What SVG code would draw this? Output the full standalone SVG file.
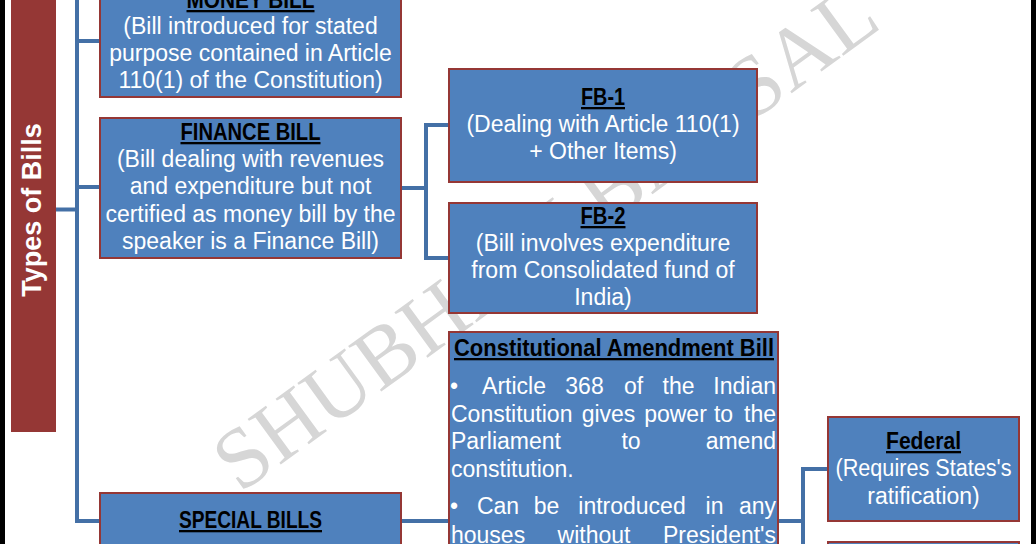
<svg xmlns="http://www.w3.org/2000/svg" width="1036" height="544" viewBox="0 0 1036 544">
<style>
.box{fill:#4F81BD;stroke:#953735;stroke-width:2}
.t{font-family:"Liberation Sans",Arial,sans-serif;font-size:23px;fill:#ffffff;text-anchor:middle}
.s{font-family:"Liberation Sans",Arial,sans-serif;font-size:23px;fill:#ffffff}
.e{text-anchor:end}
.h{font-family:"Liberation Sans",Arial,sans-serif;font-size:23px;font-weight:bold;fill:#000000;text-decoration:underline;text-anchor:middle}
.conn{stroke:#4470A6;stroke-width:4;fill:none;stroke-linejoin:miter}
.wm{font-family:"Liberation Serif","Times New Roman",serif;font-size:86px;fill:#d6d6d6}
</style>
<rect x="0" y="0" width="1036" height="544" fill="#ffffff"/>
<rect x="0" y="0" width="5" height="544" fill="#000000"/>
<rect x="1031" y="0" width="5" height="544" fill="#000000"/>
<text class="wm" transform="translate(240,494) rotate(-36)">SHUBHAM BANSAL</text>
<g id="connectors">
<path class="conn" d="M56 209.5 H77"/>
<path class="conn" d="M77 -5 V521 H100"/>
<path class="conn" d="M77 41 H100"/>
<path class="conn" d="M77 187 H100"/>
<path class="conn" d="M401 188 H426"/>
<path class="conn" d="M449 125 H426 V258 H449"/>
<path class="conn" d="M401 521 H449"/>
<path class="conn" d="M778 521 H803"/>
<path class="conn" d="M828 469 H803 V550"/>
</g>
<g id="root">
<rect x="11" y="-10" width="45" height="442" fill="#953735"/>
<text transform="translate(41,210) rotate(-90)" font-family="Liberation Sans, Arial, sans-serif" font-size="27" font-weight="bold" fill="#ffffff" text-anchor="middle">Types of Bills</text>
</g>
<g id="money-bill">
<rect class="box" x="100" y="-40" width="301" height="137"/>
<text class="h" x="250.5" y="8" textLength="128" lengthAdjust="spacingAndGlyphs">MONEY BILL</text>
<text class="t" x="250.5" y="34">(Bill introduced for stated</text>
<text class="t" x="250.5" y="61">purpose contained in Article</text>
<text class="t" x="250.5" y="88">110(1) of the Constitution)</text>
</g>
<g id="finance-bill">
<rect class="box" x="100" y="118" width="301" height="140"/>
<text class="h" x="250.5" y="140" textLength="140" lengthAdjust="spacingAndGlyphs">FINANCE BILL</text>
<text class="t" x="250.5" y="167">(Bill dealing with revenues</text>
<text class="t" x="250.5" y="194">and expenditure but not</text>
<text class="t" x="250.5" y="222">certified as money bill by the</text>
<text class="t" x="250.5" y="249">speaker is a Finance Bill)</text>
</g>
<g id="fb-1">
<rect class="box" x="449" y="69" width="308" height="113"/>
<text class="h" x="603" y="105" textLength="44" lengthAdjust="spacingAndGlyphs">FB-1</text>
<text class="t" x="603" y="132">(Dealing with Article 110(1)</text>
<text class="t" x="603" y="159">+ Other Items)</text>
</g>
<g id="fb-2">
<rect class="box" x="449" y="203" width="308" height="110"/>
<text class="h" x="603" y="224" textLength="45" lengthAdjust="spacingAndGlyphs">FB-2</text>
<text class="t" x="603" y="251">(Bill involves expenditure</text>
<text class="t" x="603" y="278">from Consolidated fund of</text>
<text class="t" x="603" y="305">India)</text>
</g>
<g id="special-bills">
<rect class="box" x="100" y="493" width="301" height="80"/>
<text class="h" x="250.5" y="528" textLength="143" lengthAdjust="spacingAndGlyphs">SPECIAL BILLS</text>
</g>
<g id="constitutional-amendment-bill">
<rect class="box" x="449" y="332" width="329" height="260"/>
<text class="h" x="614" y="356" textLength="320" lengthAdjust="spacingAndGlyphs">Constitutional Amendment Bill</text>
<text class="s" x="450" y="394">•</text>
<text class="t" x="514" y="394">Article</text>
<text class="t" x="584.5" y="394">368</text>
<text class="t" x="633.5" y="394">of</text>
<text class="t" x="678.5" y="394">the</text>
<text class="s e" x="776" y="394">Indian</text>
<text class="s" x="451" y="422">Constitution</text>
<text class="t" x="608.5" y="422">gives</text>
<text class="t" x="675.5" y="422">power</text>
<text class="t" x="723.5" y="422">to</text>
<text class="s e" x="776" y="422">the</text>
<text class="s" x="451" y="449">Parliament</text>
<text class="t" x="631" y="449">to</text>
<text class="s e" x="776" y="449">amend</text>
<text class="s" x="451" y="477">constitution.</text>
<text class="s" x="450" y="514">•</text>
<text class="t" x="498" y="514">Can</text>
<text class="t" x="546.5" y="514">be</text>
<text class="t" x="632" y="514">introduced</text>
<text class="t" x="714.5" y="514">in</text>
<text class="s e" x="776" y="514">any</text>
<text class="s" x="451" y="543">houses</text>
<text class="t" x="594" y="543">without</text>
<text class="s e" x="776" y="543">President's</text>
</g>
<g id="federal">
<rect class="box" x="828" y="417" width="191" height="104"/>
<text class="h" x="923.5" y="449" textLength="75" lengthAdjust="spacingAndGlyphs">Federal</text>
<text class="t" x="923.5" y="476" textLength="176" lengthAdjust="spacingAndGlyphs">(Requires States's</text>
<text class="t" x="923.5" y="504">ratification)</text>
</g>
<g id="next-box">
<rect class="box" x="828" y="542" width="191" height="60"/>
</g>
</svg>
